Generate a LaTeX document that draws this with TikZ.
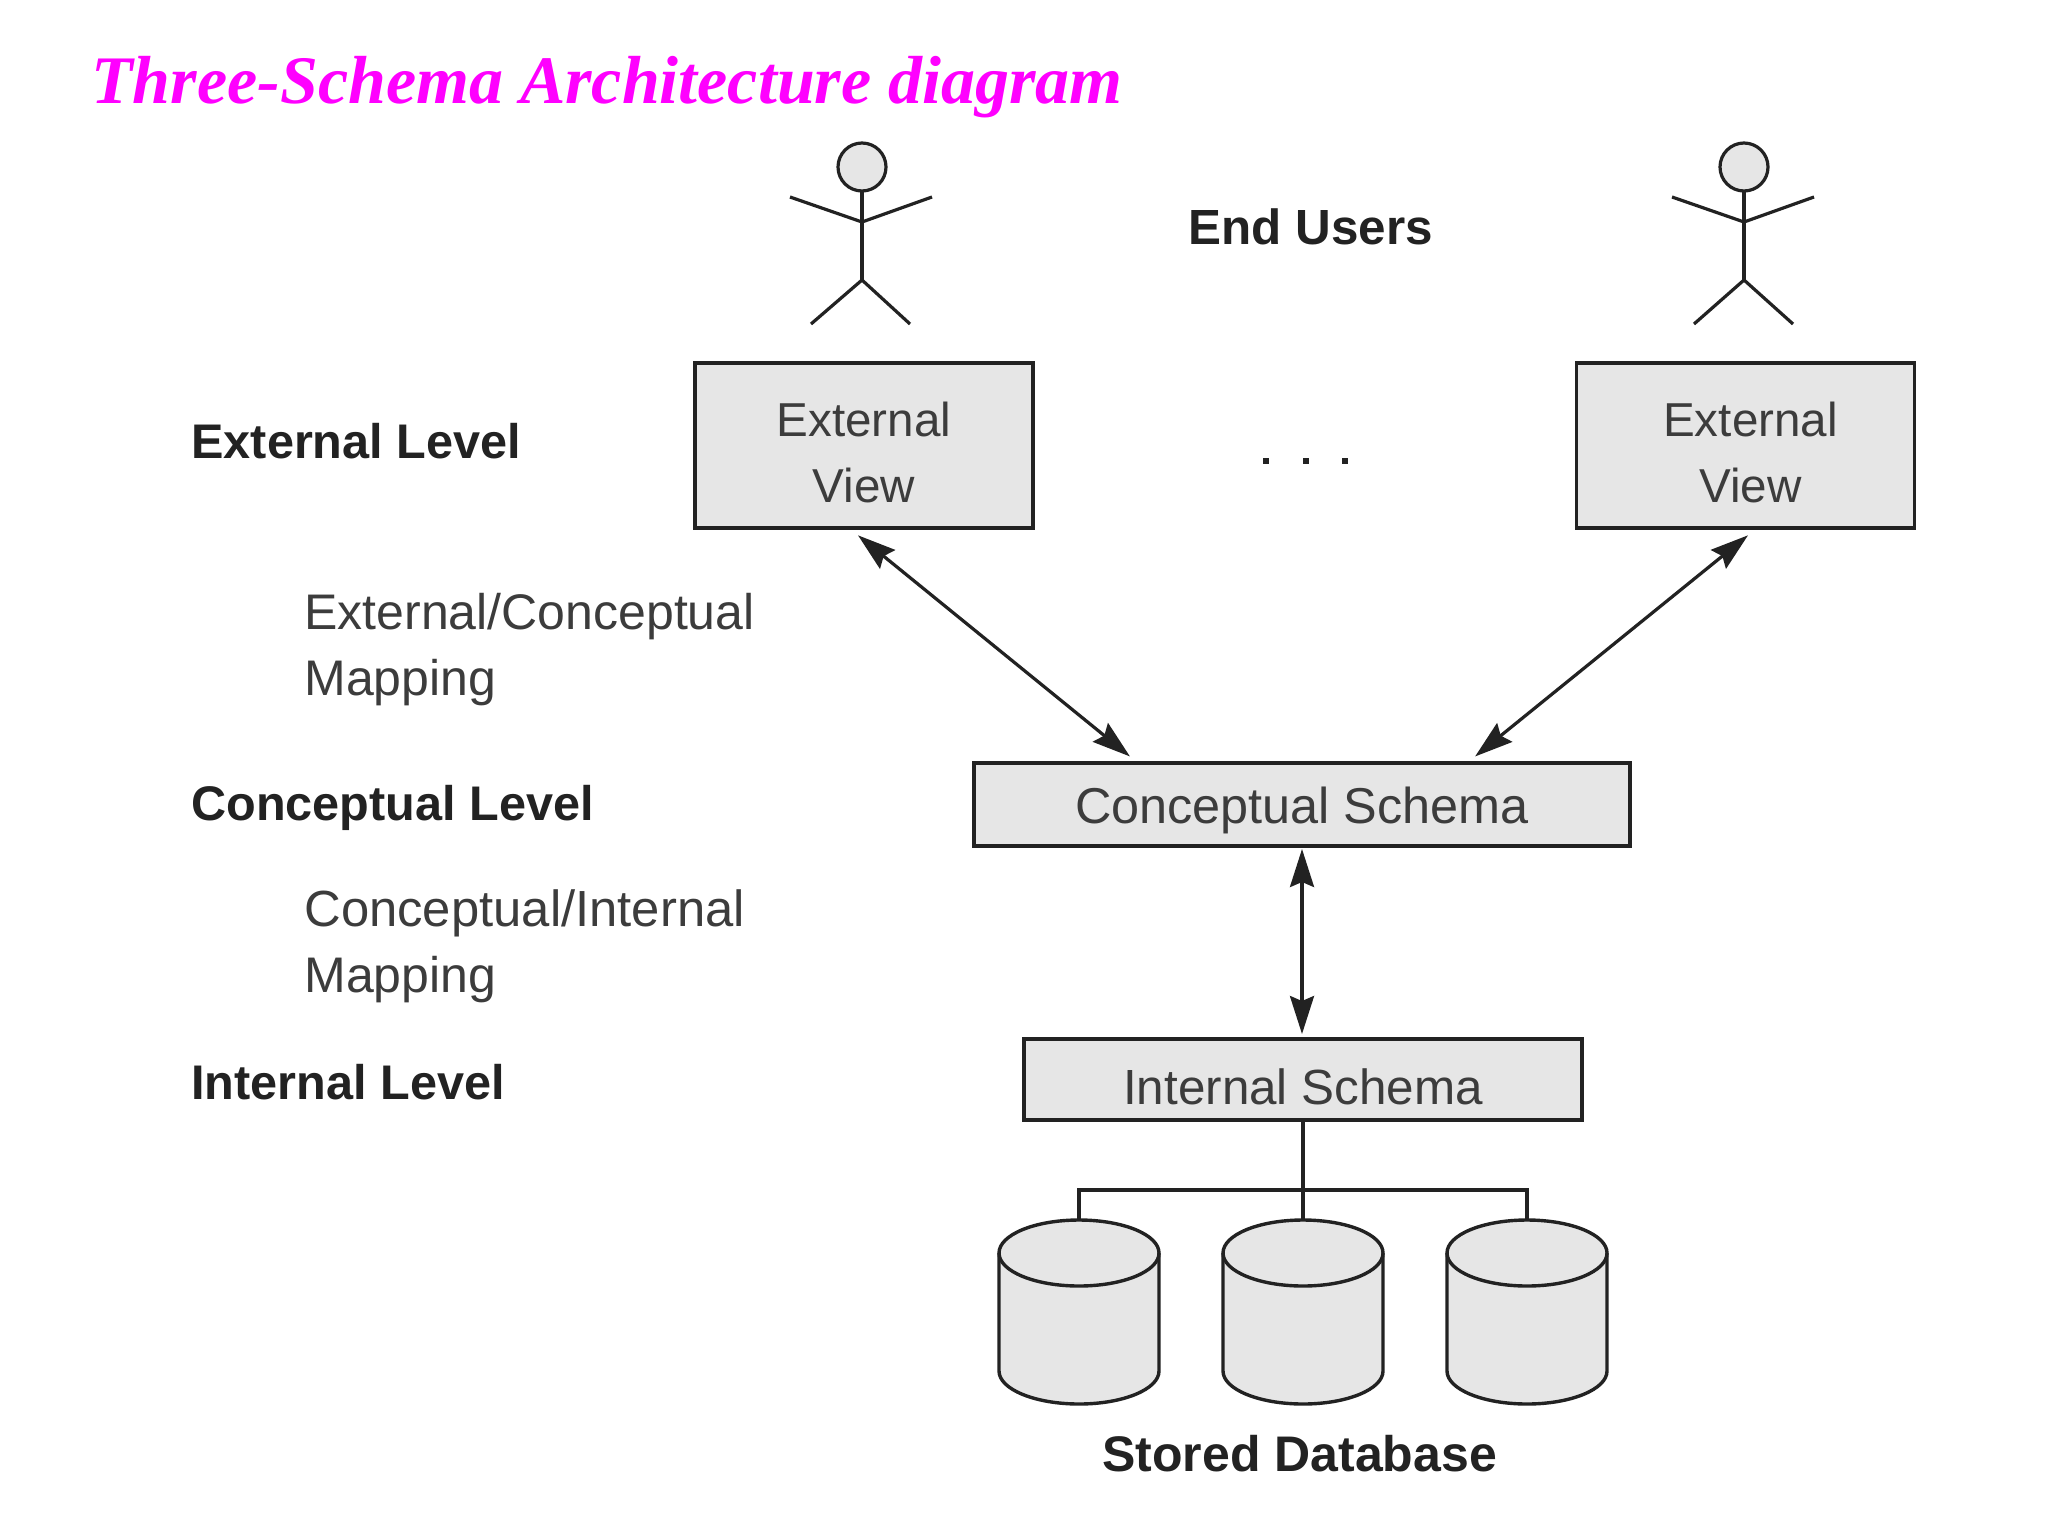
\documentclass[tikz,border=0pt]{standalone}
\usepackage{fontspec}
\setmainfont{Liberation Sans}
\newfontfamily\titlefont{Liberation Serif}
\usetikzlibrary{arrows.meta,shapes.geometric}
\definecolor{boxfill}{HTML}{E6E6E6}
\definecolor{ink}{HTML}{222222}
\definecolor{softink}{HTML}{3C3C3C}
\definecolor{titlepink}{RGB}{255,0,255}
\tikzset{
  titletext/.style={anchor=base west,inner sep=0pt,text=titlepink,font=\titlefont\bfseries\itshape\fontsize{34}{40}\selectfont},
  boldtext/.style={anchor=base west,inner sep=0pt,text=ink,font=\bfseries\fontsize{24.3}{30}\selectfont},
  maptext/.style={anchor=base west,inner sep=0pt,text=softink,font=\fontsize{25}{33}\selectfont,align=left},
  viewbox/.style={draw=ink,line width=1.9pt,fill=boxfill,outer sep=0pt,inner sep=0pt,text=softink,align=center,minimum width=169pt,minimum height=82.5pt,font=\fontsize{23.8}{33}\selectfont},
  schemabox/.style={draw=ink,line width=1.9pt,fill=boxfill,outer sep=0pt,inner sep=0pt,text=softink,text depth=0pt},
  biarrow/.style={draw=ink,line width=1.6pt,{Stealth[length=19pt,width=12pt,inset=2.5pt]}-{Stealth[length=19pt,width=12pt,inset=2.5pt]}},
  wire/.style={draw=ink,line width=1.7pt},
  limb/.style={draw=ink,line width=1.6pt},
  headshape/.style={ellipse,draw=ink,line width=1.6pt,fill=boxfill,minimum width=24pt,minimum height=24pt,inner sep=0pt,outer sep=0pt},
  dottext/.style={rectangle,fill=ink,minimum size=3pt,inner sep=0pt},
  dbdrum/.pic={
    \path[draw=ink,line width=1.7pt,fill=boxfill,line join=round]
      (-80,-57) -- (-80,61) arc[start angle=180,end angle=360,x radius=80,y radius=-33]
      -- (80,-57) arc[start angle=0,end angle=180,x radius=80,y radius=-33] -- cycle;
    \path[draw=ink,line width=1.7pt]
      (-80,-57) arc[start angle=180,end angle=360,x radius=80,y radius=-33];
    \coordinate (-top) at (0,-90);
  }
}
\newcommand{\viewlabel}{\rule{0pt}{24.5pt}External\\View}
\begin{document}
\begin{tikzpicture}[x=0.5pt,y=-0.5pt]
\useasboundingbox (0,0) rectangle (2048,1536);
\fill[white] (0,0) rectangle (2048,1536);

\node[titletext] (title) at (91,104) {Three-Schema Architecture diagram};

% level labels
\node[boldtext] (extlevel) at (191,458) {External Level};
\node[boldtext] (conlevel) at (191,820) {Conceptual Level};
\node[boldtext] (intlevel) at (191,1099) {Internal Level};
\node[maptext] (ecmap) at (304,629) {External/Conceptual};
\node[maptext] (ecmapb) at (304,695) {Mapping};
\node[maptext,font=\fontsize{25.4}{33}\selectfont] (cimap) at (304,926) {Conceptual/Internal};
\node[maptext] (cimapb) at (304,992) {Mapping};
\node[boldtext,font=\bfseries\fontsize{24.7}{30}\selectfont] (endusers) at (1188,244) {End Users};
\node[boldtext,font=\bfseries\fontsize{25}{30}\selectfont] (stored) at (1102,1471) {Stored Database};

% users
\node[headshape] (head1) at (862,167) {};
\coordinate (sh1) at (862,222);
\coordinate (hip1) at (862,280);
\draw[limb] (head1.south) -- (hip1);
\draw[limb] (790,197) -- (sh1) -- (932,197);
\draw[limb] (811,324) -- (hip1) -- (910,324);

\node[headshape] (head2) at (1744,167) {};
\coordinate (sh2) at (1744,222);
\coordinate (hip2) at (1744,280);
\draw[limb] (head2.south) -- (hip2);
\draw[limb] (1672,197) -- (sh2) -- (1814,197);
\draw[limb] (1694,324) -- (hip2) -- (1793,324);

% boxes
\node[viewbox] (ev1) at (864,445.5) {\viewlabel};
\node[viewbox] (ev2) at (1745.5,445.5) {\hspace*{5pt}\rule{0pt}{24.5pt}External\\\hspace*{5pt}View};
\node[schemabox,minimum width=328pt,minimum height=41.5pt,text height=18.5pt,font=\fontsize{25.2}{30}\selectfont] (cs) at (1302,804.5) {Conceptual Schema};
\node[schemabox,minimum width=279pt,minimum height=40.5pt,text height=24.5pt,font=\fontsize{24.7}{30}\selectfont] (is) at (1303,1079.5) {Internal Schema};

% dots
\node[dottext] (d1) at (1266,461) {};
\node[dottext] (d2) at (1306,461) {};
\node[dottext] (d3) at (1345,461) {};

% arrows
\draw[biarrow,shorten <=5.8pt,shorten >=5.2pt] ([xshift=-7.5pt]ev1.south) -- ([xshift=-82pt]cs.north);
\draw[biarrow,shorten <=5.8pt,shorten >=5.2pt] ([xshift=5.75pt]ev2.south) -- ([xshift=82.5pt]cs.north);
\draw[biarrow,shorten <=1.5pt,shorten >=2.5pt] (cs.south) -- (cs.south |- is.north);

% databases
\coordinate (bus) at (1303,1190);
\pic (db1) at (1079,1310) {dbdrum};
\pic (db2) at (1303,1310) {dbdrum};
\pic (db3) at (1527,1310) {dbdrum};
\draw[wire] (is.south) -- (db2-top);
\draw[wire] (db1-top) |- (bus) -| (db3-top);
\end{tikzpicture}
\end{document}
